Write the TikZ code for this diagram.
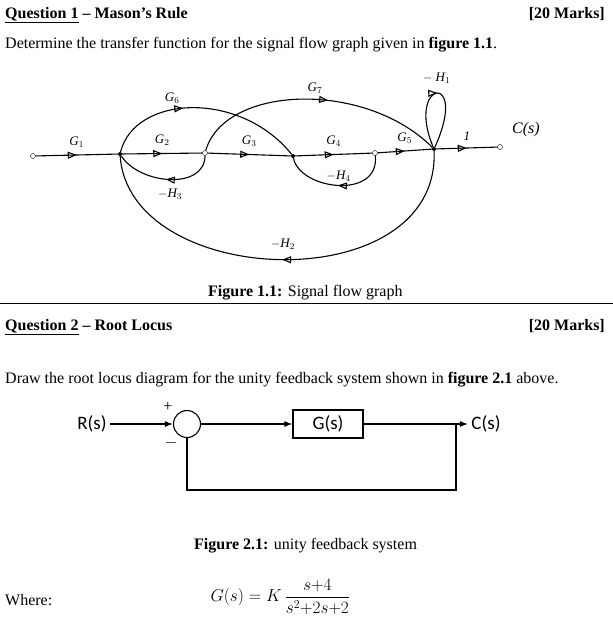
\documentclass[tikz,border=0pt]{standalone}
\usepackage{fontspec}
\setmainfont{Liberation Serif}
\newfontfamily\carl{Carlito}
\usetikzlibrary{arrows.meta,decorations.markings}
\begin{document}
\begin{tikzpicture}[x=1pt,y=-1pt,
  dot/.style={circle,draw,fill=white,inner sep=0pt,minimum size=5pt},
  jn/.style={circle,fill=black,inner sep=0pt,minimum size=4pt},
  br/.style={line width=1.1pt,postaction={decorate},decoration={markings,mark=at position #1 with {\arrow{Triangle[open,length=9pt,width=7pt]}}}},
  br/.default=0.5,
  lab/.style={font=\itshape\fontsize{13}{15}\selectfont},
  txt/.style={anchor=base west,inner sep=0pt,font=\fontsize{16}{19}\selectfont},
  bl/.style={font=\carl\fontsize{19}{22}\selectfont},
  sig/.style={-{Latex[length=8pt]},line width=1.1pt}]
\useasboundingbox (0,0) rectangle (613,622);
% header Q1
\node[txt] (q1) at (5,18) {\textbf{\underline{Question 1} – Mason’s Rule}};
\node[txt,anchor=base east] (m1) at (605,18) {\textbf{[20 Marks]}};
\node[txt] (d1) at (5,48) {Determine the transfer function for the signal flow graph given in \textbf{figure 1.1}.};
% SFG nodes
\node[dot] (n0) at (33,156) {};
\node[jn] (n1) at (120,154) {};
\node[dot] (n2) at (205,153) {};
\node[jn] (n3) at (293,156) {};
\node[dot] (n4) at (375,153) {};
\node[jn] (n5) at (434,149) {};
\node[dot] (n6) at (500,147) {};
\node[font=\itshape\fontsize{16}{18}\selectfont] (cs) at (526,130) {C(s)};
\draw[br] (n0) -- (n1) node[lab,midway,above=4pt] {G$_1$};
\draw[br] (n1) -- (n2) node[lab,midway,above=4pt] {G$_2$};
\draw[br] (n2) -- (n3) node[lab,midway,above=4pt] {G$_3$};
\draw[br] (n3) -- (n4) node[lab,midway,above=4pt] {G$_4$};
\draw[br] (n4) -- (n5) node[lab,midway,above=4pt] {G$_5$};
\draw[br] (n5) -- (n6) node[lab,midway,above=4pt] {1};
\draw[br=0.4] (n1) .. controls (135,95) and (240,90) .. (n3) node[lab,pos=0.4,above=2pt] {G$_6$};
\draw[br=0.55] (n2) .. controls (225,85) and (365,80) .. (n5) node[lab,pos=0.55,above=2pt] {G$_7$};
\draw[br=0.5] (n2) .. controls (205,190) and (140,185) .. (n1) node[lab,pos=0.5,below=6pt] {$-$H$_3$};
\draw[br=0.5] (n4) .. controls (380,200) and (300,190) .. (n3) node[lab,pos=0.5,above=0pt] {$-$H$_4$};
\draw[br=0.5] (n5) .. controls (440,300) and (130,290) .. (n1) node[lab,pos=0.5,above=6pt] {$-$H$_2$};
\draw[br=0.5] (n5) .. controls (405,80) and (470,70) .. (n5) node[lab,pos=0.5,above=6pt] {$-$ H$_1$};
\node[txt] (f1) at (208,296) {\textbf{Figure 1.1:} Signal flow graph};
\draw (0,303) -- (613,303);
% Q2
\node[txt] (q2) at (5,330) {\textbf{\underline{Question 2} – Root Locus}};
\node[txt,anchor=base east] (m2) at (605,330) {\textbf{[20 Marks]}};
\node[txt] (d2) at (5,383) {Draw the root locus diagram for the unity feedback system shown in \textbf{figure 2.1} above.};
% block diagram
\node[bl] (r) at (92,424) {R(s)};
\node[circle,draw,line width=1.1pt,minimum size=27pt,inner sep=0pt] (sum) at (187,424) {};
\node[draw,line width=1.1pt,minimum width=70pt,minimum height=28pt,bl] (g) at (328,424) {G(s)};
\node[bl] (c) at (486,424) {C(s)};
\coordinate (tap) at (456,424);
\draw[sig] (r) -- (sum);
\draw[sig] (sum) -- (g);
\draw[sig] (g) -- (c);
\draw[line width=1.1pt] (tap) |- (187,490) -- (sum);
\node[font=\fontsize{16}{18}\selectfont] (plus) at (168,407) {+};
\node[font=\fontsize{16}{18}\selectfont] (minus) at (171,443) {$-$};
\node[txt] (f2) at (194,549) {\textbf{Figure 2.1:} unity feedback system};
\node[txt] (wh) at (5,605) {Where:};
\node[anchor=west,font=\fontsize{18}{20}\selectfont] (eq) at (207,597) {$G(s)=K\,{\displaystyle\frac{s{+}4}{s^{2}{+}2s{+}2}}$};
\end{tikzpicture}
\end{document}
